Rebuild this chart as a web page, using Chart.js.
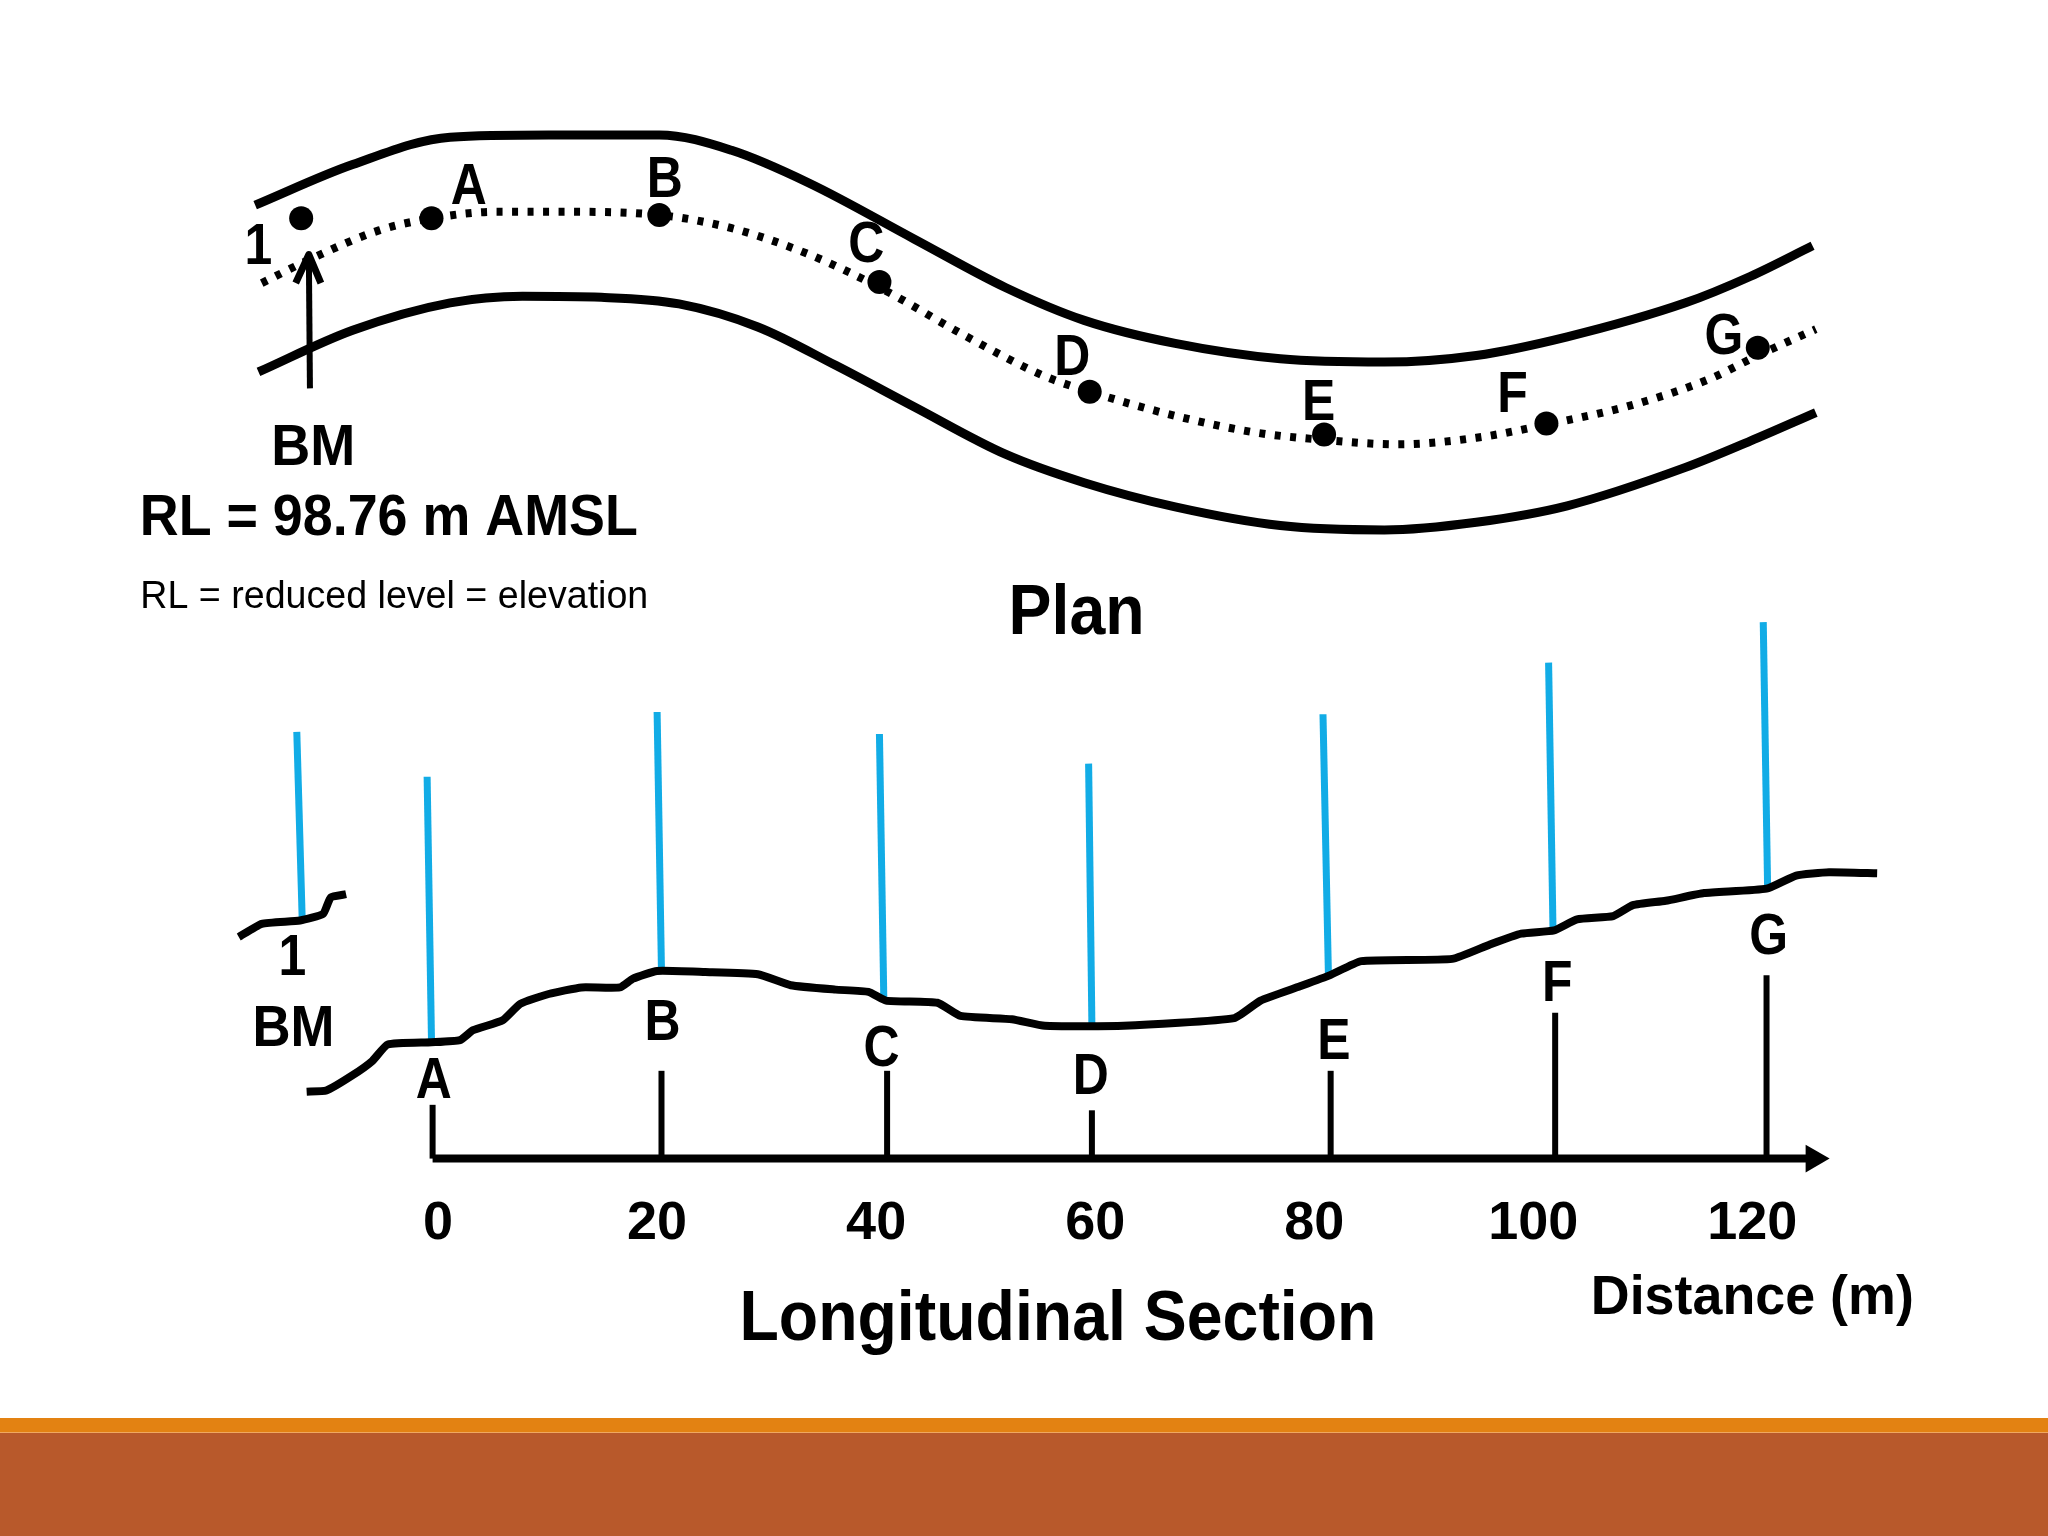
<!DOCTYPE html>
<html>
<head>
<meta charset="utf-8">
<title>Plan and Longitudinal Section</title>
<script src="https://cdn.jsdelivr.net/npm/chart.js@4"></script>
<style>
  html, body { margin: 0; padding: 0; background: #fff; }
  #page { position: relative; width: 2048px; height: 1536px; overflow: hidden; }
  #survey { position: absolute; left: 0; top: 0; }
  .stripe { position: absolute; left: 0; width: 2048px; top: 1418px; height: 15px; background: #e38212; border-bottom: 1px solid #f0a860; box-sizing: border-box; }
  .footer { position: absolute; left: 0; width: 2048px; top: 1433px; height: 103px; background: #b8592b; }
</style>
</head>
<body>
<div id="page">
  <div class="stripe"></div>
  <div class="footer"></div>
  <canvas id="survey" width="2048" height="1536"></canvas>
</div>
<script>
// x is distance along the road in metres, y is a drawing level
const distanceTicks = [0, 20, 40, 60, 80, 100, 120];

// Plan
const upperBankX = [-16.7, -7.8, 1.1, 10.1, 20.2, 26.8, 33.9, 43.5, 51.8, 59.0, 67.3, 76.9, 86.4, 94.8, 103.1, 113.9, 119.8, 125.5];
const upperBankY = [121.3, 125.0, 127.5, 127.7, 127.7, 126.3, 123.3, 118.2, 113.8, 110.8, 108.7, 107.3, 107.0, 107.6, 109.3, 112.4, 114.8, 117.6];
const lowerBankX = [-16.4, -7.8, 1.1, 7.7, 14.9, 22.0, 29.2, 36.3, 43.5, 51.8, 59.0, 67.3, 76.9, 86.4, 94.8, 103.1, 113.9, 119.8, 125.8];
const lowerBankY = [106.1, 109.9, 112.4, 113.0, 112.9, 112.3, 110.2, 106.7, 102.9, 98.6, 96.0, 93.8, 92.1, 91.7, 92.4, 93.9, 97.4, 99.8, 102.4];
const centreLineX = [-16.1, -11.4, -5.4, -0.6, 5.3, 11.3, 20.2, 26.8, 33.9, 40.3, 48.3, 55.4, 59.5, 67.3, 74.5, 80.9, 87.6, 94.8, 101.2, 109.1, 116.2, 120.5, 125.8];
const centreLineY = [114.2, 116.5, 119.0, 120.1, 120.7, 120.7, 120.4, 119.2, 116.8, 113.8, 109.3, 105.7, 104.3, 102.1, 100.6, 99.9, 99.5, 100.1, 101.3, 103.1, 105.5, 107.6, 110.0];
const planStationX = [-12.5, -0.6, 20.2, 40.3, 59.5, 80.9, 101.2, 120.5];
const planStationY = [120.1, 120.1, 120.4, 114.3, 104.3, 100.4, 101.4, 108.3];
const bmArrowX = [-11.7, -11.8];
const bmArrowY = [104.6, 116.8];
const bmArrowHeadX = [-13.0, -11.8, -10.7];
const bmArrowHeadY = [114.2, 116.8, 114.2];

// Longitudinal section
const groundX = [-12.0, -10.2, -7.8, -6.0, -4.6, -0.6, 2.0, 3.2, 5.9, 7.5, 10.1, 13.1, 16.6, 17.8, 20.0, 24.4, 29.2, 32.2, 36.3, 39.3, 40.9, 45.6, 47.7, 52.4, 55.4, 62.6, 72.7, 75.1, 78.7, 81.4, 84.3, 92.6, 96.0, 98.9, 101.9, 104.0, 107.3, 109.1, 112.1, 115.6, 121.3, 124.0, 127.0, 131.4];
const groundY = [40.5, 40.6, 42.0, 43.3, 44.8, 45.0, 45.2, 46.1, 47.0, 48.5, 49.4, 50.0, 50.0, 50.8, 51.5, 51.4, 51.2, 50.2, 49.8, 49.6, 48.8, 48.6, 47.4, 47.1, 46.5, 46.5, 47.2, 48.8, 50.1, 51.1, 52.4, 52.6, 53.9, 54.9, 55.2, 56.2, 56.5, 57.5, 57.9, 58.6, 59.0, 60.2, 60.5, 60.4];
const bmGroundX = [-18.2, -16.1, -12.6, -10.5, -9.8, -8.4];
const bmGroundY = [54.6, 55.8, 56.1, 56.7, 58.2, 58.5];

// Levelling staffs at 1 (BM), A, B, C, D, E, F, G
const staffTopX = [-12.9, -1.0, 20.0, 40.3, 59.4, 80.8, 101.4, 121.0];
const staffTopY = [73.3, 69.2, 75.1, 73.1, 70.4, 74.9, 79.6, 83.3];
const staffFootX = [-12.4, -0.6, 20.4, 40.7, 59.7, 81.3, 101.8, 121.4];
const staffFootY = [56.0, 45.1, 51.4, 48.9, 46.5, 51.0, 55.4, 59.0];

// Distance axis and the stems rising from it
const axisLevel = 34.4;
const axisEndX = 125.0;
const stemX = [-0.5, 20.4, 41.0, 59.7, 81.5, 102.0, 121.3];
const stemTopY = [39.3, 42.4, 42.4, 38.8, 42.4, 47.7, 51.1];

const zip = (xs, ys) => xs.map((x, i) => ({ x: x, y: ys[i] }));

function curve(xs, ys, width, extra) {
  return Object.assign({
    data: zip(xs, ys),
    showLine: true,
    borderColor: '#000',
    borderWidth: width,
    pointRadius: 0,
    borderCapStyle: 'butt',
    borderJoinStyle: 'round'
  }, extra);
}

const datasets = [
  curve(upperBankX, upperBankY, 9, { cubicInterpolationMode: 'monotone' }),
  curve(lowerBankX, lowerBankY, 9, { cubicInterpolationMode: 'monotone' }),
  curve(centreLineX, centreLineY, 8, { cubicInterpolationMode: 'monotone', borderDash: [6, 9.5] }),
  curve(bmArrowX, bmArrowY, 6),
  curve(bmArrowHeadX, bmArrowHeadY, 7),
  curve(groundX, groundY, 8, { tension: 0.15 }),
  curve(bmGroundX, bmGroundY, 8, { tension: 0.15 }),
  curve([stemX[0], axisEndX], [axisLevel, axisLevel], 8),
  {
    data: [{ x: axisEndX + 0.6, y: axisLevel }],
    pointStyle: 'triangle',
    pointRotation: 90,
    pointRadius: 16,
    backgroundColor: '#000',
    borderWidth: 0
  },
  {
    data: zip(planStationX, planStationY),
    pointStyle: 'circle',
    pointRadius: 12,
    backgroundColor: '#000',
    borderWidth: 0
  }
];

stemX.forEach((x, i) => {
  datasets.push(curve([x, x], [axisLevel, stemTopY[i]], 6));
});
staffTopX.forEach((x, i) => {
  datasets.push(curve([x, staffFootX[i]], [staffTopY[i], staffFootY[i]], 7, { borderColor: '#12ace6' }));
});

// Text placed on the drawing in axis units
const drawingText = [
  { text: '1', x: -16.4, y: 117.4, size: 58 },
  { text: 'A', x: 2.8, y: 122.9, size: 58 },
  { text: 'B', x: 20.7, y: 123.5, size: 58 },
  { text: 'C', x: 39.1, y: 117.6, size: 58 },
  { text: 'D', x: 57.9, y: 107.3, size: 58 },
  { text: 'E', x: 80.4, y: 103.2, size: 58 },
  { text: 'F', x: 98.1, y: 103.9, size: 58 },
  { text: 'G', x: 117.4, y: 109.2, size: 58 },
  { text: 'BM', x: -11.4, y: 99.1, size: 58, width: 84 },
  { text: 'RL = 98.76 m AMSL', x: -4.5, y: 92.7, size: 58, width: 498 },
  { text: 'RL = reduced level = elevation', x: -4.0, y: 85.6, size: 39, width: 508, weight: 'normal' },
  { text: 'Plan', x: 58.3, y: 84.0, size: 70, width: 136 },
  { text: '1', x: -13.3, y: 52.6, size: 58 },
  { text: 'BM', x: -13.2, y: 46.1, size: 58, width: 82 },
  { text: 'A', x: -0.4, y: 41.4, size: 58 },
  { text: 'B', x: 20.5, y: 46.7, size: 58 },
  { text: 'C', x: 40.5, y: 44.3, size: 58 },
  { text: 'D', x: 59.6, y: 41.7, size: 58 },
  { text: 'E', x: 81.8, y: 44.9, size: 58 },
  { text: 'F', x: 102.2, y: 50.2, size: 58 },
  { text: 'G', x: 121.5, y: 54.5, size: 58 },
  { text: 'Longitudinal Section', x: 56.6, y: 19.6, size: 70, width: 637 },
  { text: 'Distance (m)', x: 120.0, y: 21.6, size: 56, width: 323 }
];

const drawingTextPlugin = {
  id: 'drawingText',
  afterDatasetsDraw(chart) {
    const ctx = chart.ctx;
    ctx.save();
    ctx.fillStyle = '#000';
    ctx.textAlign = 'center';
    ctx.textBaseline = 'middle';
    drawingText.forEach(t => {
      ctx.font = `${t.weight || 'bold'} ${t.size}px "Liberation Sans"`;
      const w = t.width || ctx.measureText(t.text).width * 0.86;
      ctx.fillText(t.text, chart.scales.x.getPixelForValue(t.x), chart.scales.y.getPixelForValue(t.y), w);
    });
    ctx.restore();
  }
};

new Chart(document.getElementById('survey').getContext('2d'), {
  type: 'scatter',
  data: { datasets: datasets },
  options: {
    responsive: false,
    animation: false,
    devicePixelRatio: 1,
    layout: { padding: 0, autoPadding: false },
    plugins: { legend: { display: false }, tooltip: { enabled: false }, title: { display: false } },
    scales: {
      x: {
        type: 'linear',
        min: -40,
        max: 147,
        position: { y: axisLevel },
        afterBuildTicks: scale => { scale.ticks = distanceTicks.map(v => ({ value: v })); },
        border: { display: false },
        grid: { display: false, drawTicks: false },
        ticks: {
          autoSkip: false,
          maxRotation: 0,
          padding: 33,
          color: '#000',
          font: { family: 'Liberation Sans', size: 54, weight: 'bold' }
        }
      },
      y: { type: 'linear', min: 0, max: 140, display: false }
    }
  },
  plugins: [drawingTextPlugin]
});
</script>
</body>
</html>
